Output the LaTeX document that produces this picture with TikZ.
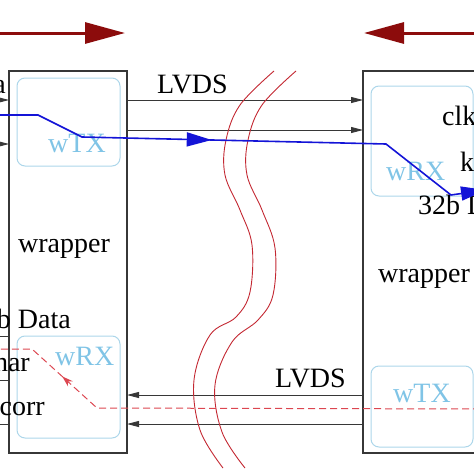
\documentclass[tikz,border=0pt]{standalone}
\usepackage{fontspec}
\setmainfont{Liberation Serif}
\usetikzlibrary{arrows.meta,decorations.markings}
\definecolor{darkred}{RGB}{140,12,12}
\definecolor{boxgray}{RGB}{55,55,55}
\definecolor{lightblue}{RGB}{172,214,234}
\definecolor{wblue}{RGB}{128,196,230}
\definecolor{pathblue}{RGB}{20,20,215}
\definecolor{wavered}{RGB}{195,40,50}
\definecolor{dashred}{RGB}{220,70,80}
\tikzset{
  box/.style={draw=boxgray, line width=1.1pt, inner sep=0pt, outer sep=0pt, anchor=north west},
  wbox/.style={draw=lightblue, line width=1pt, rounded corners=8pt, inner sep=0pt, outer sep=0pt, anchor=north west},
  lbl/.style={font=\fontsize{28}{30}\selectfont, inner sep=0pt},
  wlbl/.style={lbl, text=wblue},
  link/.style={draw=boxgray, line width=0.9pt, -{Triangle[length=12pt,width=6pt]}},
  plain/.style={draw=boxgray, line width=0.9pt},
  bigarrow/.style={draw=darkred, line width=3pt, -{Triangle[length=40pt,width=21pt]}},
  wave/.style={draw=wavered, line width=0.9pt},
}
\begin{document}
\begin{tikzpicture}[x=1pt,y=-1pt]
\useasboundingbox (0,0) rectangle (474,474);
\clip (0,0) rectangle (474,474);
% direction arrows
\coordinate (a1s) at (-5,33);
\coordinate (a1e) at (125,33);
\coordinate (a2s) at (480,33);
\coordinate (a2e) at (364,33);
\draw[bigarrow] (a1s) -- (a1e);
\draw[bigarrow] (a2s) -- (a2e);
% boxes
\node[box, minimum width=118pt, minimum height=382pt] (L) at (9,71) {};
\node[box, minimum width=130pt, minimum height=382pt] (R) at (363,71) {};
\node[wbox, minimum width=103pt, minimum height=88pt] (LTX) at (17,78) {};
\node[wbox, minimum width=103pt, minimum height=102pt] (LRX) at (17,336) {};
\node[wbox, minimum width=102pt, minimum height=110pt] (RRX) at (371,86) {};
\node[wbox, minimum width=102pt, minimum height=81pt] (RTX) at (371,366) {};
% box labels
\node[wlbl, anchor=base west] (tLTX) at (48,152) {wTX};
\node[wlbl, anchor=base west] (tLRX) at (55,365) {wRX};
\node[wlbl, anchor=base west] (tRRX) at (386,180) {wRX};
\node[wlbl, anchor=base west] (tRTX) at (393,402) {wTX};
\node[lbl, anchor=base west] (wL) at (18,252) {wrapper};
\node[lbl, anchor=base west] (wR) at (378,282) {wrapper};
\node[lbl, anchor=base west] (lv1) at (157,93) {LVDS};
\node[lbl, anchor=base west] (lv2) at (275,387) {LVDS};
% signal labels
\node[lbl, anchor=base east] (sa) at (6,93) {Data};
\node[lbl, anchor=base east] (sd) at (71,328) {32b Data};
\node[lbl, anchor=base east] (sc) at (30,371) {char};
\node[lbl, anchor=base east] (sk) at (45,415) {corr};
\node[lbl, anchor=base west] (rc) at (442,125) {clk};
\node[lbl, anchor=base west] (rk) at (460,171) {k};
\node[lbl, anchor=base west] (rd) at (418,214) {32b Data};
% coordinates for lines
\coordinate (y100) at (0,100);
\coordinate (y130) at (0,130);
\coordinate (y144) at (0,144);
\coordinate (y336) at (0,336);
\coordinate (y380) at (0,380);
\coordinate (y395) at (0,395);
\coordinate (y424) at (0,424);
\coordinate (in1) at (-12,100);
\coordinate (in2) at (-12,144);
\coordinate (o1) at (-5,336);
\coordinate (o2) at (-5,380);
\coordinate (o3) at (-5,424);
% LVDS links
\draw[link] (L.east |- y100) -- (R.west |- y100);
\draw[link] (L.east |- y130) -- (R.west |- y130);
\draw[link] (R.west |- y395) -- (L.east |- y395);
\draw[link] (R.west |- y424) -- (L.east |- y424);
% left inputs and outputs
\draw[link] (in1) -- (L.west |- y100);
\draw[link] (in2) -- (L.west |- y144);
\draw[plain] (L.west |- y336) -- (o1);
\draw[plain] (L.west |- y380) -- (o2);
\draw[plain] (L.west |- y424) -- (o3);
% cable break (wavy lines)
\draw[wave] plot[smooth, tension=0.6] coordinates {(274,71) (240,105) (226,140) (225,175) (240,210) (252,245) (250,292) (236,317) (210,335) (194,380) (200,430) (223,468)};
\draw[wave] plot[smooth, tension=0.6] coordinates {(296,71) (262,105) (248,140) (247,175) (262,210) (275,248) (273,295) (258,320) (232,342) (215,385) (222,432) (245,468)};
% blue data path
\coordinate (b0) at (-5,115);
\coordinate (b1) at (38,115);
\coordinate (b2) at (82,137);
\coordinate (b3) at (386,144);
\coordinate (b4) at (451,195);
\coordinate (b5) at (486,190);
\draw[draw=pathblue, line width=1.6pt,
  postaction={decorate, decoration={markings, mark=at position 222pt with {\arrow[pathblue]{Triangle[length=25pt,width=14pt]}}}},
  -{Triangle[length=25pt,width=14pt]}]
  (b0) -- (b1) -- (b2) -- (b3) -- (b4) -- (b5);
% red dashed return path
\coordinate (r0) at (480,409);
\coordinate (r1) at (97,408);
\coordinate (r2) at (32,349);
\coordinate (r3) at (-5,349);
\draw[draw=dashred, line width=1pt, dash pattern=on 7pt off 4pt,
  postaction={decorate, decoration={markings, mark=at position 430pt with {\arrow[dashred, solid]{Stealth[length=11pt,width=7pt]}}}}]
  (r0) -- (r1) -- (r2) -- (r3);
\end{tikzpicture}
\end{document}
